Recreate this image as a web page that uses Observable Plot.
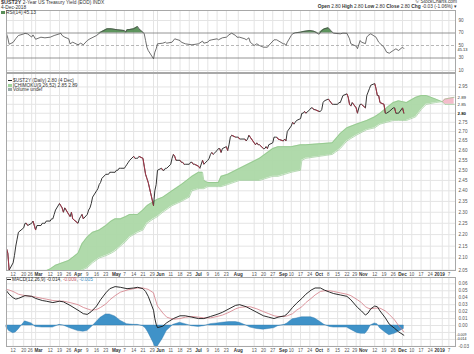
<!DOCTYPE html>
<html><head><meta charset="utf-8">
<script src="https://cdn.jsdelivr.net/npm/d3@7"></script>
<script src="https://cdn.jsdelivr.net/npm/@observablehq/plot@0.6"></script>
<style>
body{margin:0;background:#fff;font-family:"Liberation Sans",Arial,sans-serif;}
#wrap{position:relative;width:474px;height:354px;overflow:hidden;background:#fff;}
#wrap svg{position:absolute;left:0;}
.t{position:absolute;white-space:nowrap;font-size:4.8px;color:#333;line-height:1;}
.ic{display:inline-block;width:4px;height:3px;margin-right:1px;vertical-align:0px;}
</style></head><body><div id="wrap"></div>
<script>
// ---------------- DATA ----------------
const priceDates = ["2018-02-07","2018-02-08","2018-02-09","2018-02-12","2018-02-13","2018-02-14","2018-02-15","2018-02-16","2018-02-20","2018-02-21","2018-02-22","2018-02-23","2018-02-26","2018-02-27","2018-02-28","2018-03-01","2018-03-02","2018-03-05","2018-03-06","2018-03-07","2018-03-08","2018-03-09","2018-03-12","2018-03-13","2018-03-14","2018-03-15","2018-03-16","2018-03-19","2018-03-20","2018-03-21","2018-03-22","2018-03-23","2018-03-26","2018-03-27","2018-03-28","2018-03-29","2018-04-02","2018-04-03","2018-04-04","2018-04-05","2018-04-06","2018-04-09","2018-04-10","2018-04-11","2018-04-12","2018-04-13","2018-04-16","2018-04-17","2018-04-18","2018-04-19","2018-04-20","2018-04-23","2018-04-24","2018-04-25","2018-04-26","2018-04-27","2018-04-30","2018-05-01","2018-05-02","2018-05-03","2018-05-04","2018-05-07","2018-05-08","2018-05-09","2018-05-10","2018-05-11","2018-05-14","2018-05-15","2018-05-16","2018-05-17","2018-05-18","2018-05-21","2018-05-22","2018-05-23","2018-05-24","2018-05-25","2018-05-29","2018-05-30","2018-05-31","2018-06-01","2018-06-04","2018-06-05","2018-06-06","2018-06-07","2018-06-08","2018-06-11","2018-06-12","2018-06-13","2018-06-14","2018-06-15","2018-06-18","2018-06-19","2018-06-20","2018-06-21","2018-06-22","2018-06-25","2018-06-26","2018-06-27","2018-06-28","2018-06-29","2018-07-02","2018-07-03","2018-07-05","2018-07-06","2018-07-09","2018-07-10","2018-07-11","2018-07-12","2018-07-13","2018-07-16","2018-07-17","2018-07-18","2018-07-19","2018-07-20","2018-07-23","2018-07-24","2018-07-25","2018-07-26","2018-07-27","2018-07-30","2018-07-31","2018-08-01","2018-08-02","2018-08-03","2018-08-06","2018-08-07","2018-08-08","2018-08-09","2018-08-10","2018-08-13","2018-08-14","2018-08-15","2018-08-16","2018-08-17","2018-08-20","2018-08-21","2018-08-22","2018-08-23","2018-08-24","2018-08-27","2018-08-28","2018-08-29","2018-08-30","2018-08-31","2018-09-04","2018-09-05","2018-09-06","2018-09-07","2018-09-10","2018-09-11","2018-09-12","2018-09-13","2018-09-14","2018-09-17","2018-09-18","2018-09-19","2018-09-20","2018-09-21","2018-09-24","2018-09-25","2018-09-26","2018-09-27","2018-09-28","2018-10-01","2018-10-02","2018-10-03","2018-10-04","2018-10-05","2018-10-08","2018-10-09","2018-10-10","2018-10-11","2018-10-12","2018-10-15","2018-10-16","2018-10-17","2018-10-18","2018-10-19","2018-10-22","2018-10-23","2018-10-24","2018-10-25","2018-10-26","2018-10-29","2018-10-30","2018-10-31","2018-11-01","2018-11-02","2018-11-05","2018-11-06","2018-11-07","2018-11-08","2018-11-09","2018-11-12","2018-11-13","2018-11-14","2018-11-15","2018-11-16","2018-11-19","2018-11-20","2018-11-21","2018-11-23","2018-11-26","2018-11-27","2018-11-28","2018-11-29","2018-11-30","2018-12-03","2018-12-04"];
const priceValues = [2.14,2.12,2.05,2.08,2.11,2.15,2.18,2.21,2.23,2.25,2.25,2.24,2.25,2.26,2.24,2.22,2.24,2.24,2.25,2.25,2.25,2.26,2.26,2.27,2.27,2.29,2.31,2.34,2.33,2.32,2.30,2.32,2.29,2.28,2.30,2.27,2.25,2.27,2.28,2.29,2.27,2.29,2.31,2.32,2.34,2.37,2.40,2.41,2.43,2.44,2.46,2.48,2.48,2.48,2.49,2.49,2.49,2.50,2.50,2.51,2.51,2.51,2.52,2.53,2.54,2.55,2.57,2.56,2.56,2.56,2.57,2.56,2.52,2.48,2.46,2.44,2.33,2.40,2.43,2.50,2.51,2.50,2.50,2.51,2.51,2.53,2.56,2.58,2.57,2.55,2.55,2.54,2.54,2.53,2.53,2.53,2.54,2.54,2.53,2.53,2.52,2.51,2.55,2.53,2.55,2.56,2.58,2.59,2.58,2.60,2.61,2.61,2.59,2.61,2.62,2.60,2.63,2.67,2.68,2.67,2.67,2.67,2.66,2.66,2.66,2.65,2.66,2.68,2.67,2.64,2.63,2.64,2.63,2.63,2.61,2.61,2.62,2.61,2.63,2.64,2.67,2.67,2.67,2.66,2.65,2.66,2.65,2.70,2.73,2.75,2.74,2.75,2.76,2.77,2.80,2.80,2.81,2.80,2.82,2.83,2.83,2.82,2.82,2.81,2.81,2.82,2.86,2.87,2.88,2.87,2.86,2.85,2.85,2.85,2.86,2.86,2.88,2.90,2.91,2.89,2.85,2.84,2.86,2.83,2.80,2.83,2.85,2.85,2.83,2.90,2.92,2.94,2.96,2.97,2.94,2.90,2.90,2.86,2.85,2.80,2.80,2.81,2.83,2.83,2.80,2.80,2.80,2.83,2.80];

const cloudDates = ["2018-03-01","2018-03-06","2018-03-12","2018-03-16","2018-03-26","2018-04-02","2018-04-05","2018-04-09","2018-04-13","2018-04-18","2018-04-23","2018-04-27","2018-04-30","2018-05-04","2018-05-08","2018-05-11","2018-05-17","2018-05-21","2018-05-24","2018-05-29","2018-06-01","2018-06-05","2018-06-12","2018-06-19","2018-06-25","2018-06-27","2018-07-02","2018-07-05","2018-07-06","2018-07-09","2018-07-17","2018-07-19","2018-07-24","2018-08-02","2018-08-17","2018-08-27","2018-08-31","2018-09-10","2018-09-17","2018-09-18","2018-09-21","2018-10-11","2018-10-17","2018-10-22","2018-10-29","2018-11-06","2018-11-12","2018-11-16","2018-11-21","2018-11-26","2018-11-30","2018-12-06","2018-12-13","2018-12-17","2018-12-21","2018-12-28","2019-01-02","2019-01-04","2019-01-11"];
const spanA = [2.02,2.04,2.055,2.07,2.09,2.12,2.16,2.19,2.21,2.22,2.24,2.26,2.27,2.27,2.28,2.29,2.29,2.31,2.33,2.35,2.36,2.37,2.40,2.43,2.46,2.47,2.49,2.49,2.45,2.44,2.44,2.47,2.48,2.51,2.56,2.61,2.62,2.62,2.63,2.63,2.63,2.64,2.69,2.72,2.74,2.76,2.78,2.80,2.83,2.86,2.87,2.86,2.89,2.90,2.90,2.88,2.865,2.85,2.85];
const spanB = [1.96,1.97,1.98,1.99,2.01,2.04,2.05,2.06,2.08,2.10,2.11,2.12,2.13,2.15,2.17,2.19,2.21,2.22,2.25,2.27,2.28,2.30,2.33,2.35,2.37,2.40,2.41,2.41,2.41,2.42,2.42,2.42,2.43,2.45,2.45,2.47,2.47,2.49,2.50,2.55,2.56,2.58,2.61,2.65,2.68,2.71,2.72,2.74,2.75,2.76,2.76,2.76,2.78,2.82,2.85,2.86,2.865,2.88,2.89];

const rsiDates = ["2018-02-07","2018-02-08","2018-02-09","2018-02-12","2018-02-14","2018-02-16","2018-02-20","2018-02-21","2018-02-23","2018-02-26","2018-02-27","2018-03-01","2018-03-05","2018-03-08","2018-03-12","2018-03-15","2018-03-19","2018-03-20","2018-03-21","2018-03-23","2018-03-26","2018-03-27","2018-03-29","2018-04-02","2018-04-04","2018-04-06","2018-04-09","2018-04-11","2018-04-16","2018-04-19","2018-04-24","2018-04-27","2018-05-02","2018-05-07","2018-05-08","2018-05-09","2018-05-11","2018-05-14","2018-05-17","2018-05-18","2018-05-21","2018-05-22","2018-05-23","2018-05-24","2018-05-25","2018-05-29","2018-05-30","2018-05-31","2018-06-01","2018-06-05","2018-06-07","2018-06-08","2018-06-12","2018-06-14","2018-06-18","2018-06-19","2018-06-22","2018-06-27","2018-07-02","2018-07-05","2018-07-06","2018-07-09","2018-07-10","2018-07-12","2018-07-16","2018-07-17","2018-07-20","2018-07-23","2018-07-25","2018-07-27","2018-07-30","2018-07-31","2018-08-02","2018-08-06","2018-08-07","2018-08-09","2018-08-10","2018-08-13","2018-08-15","2018-08-17","2018-08-20","2018-08-23","2018-08-24","2018-08-28","2018-08-30","2018-09-04","2018-09-05","2018-09-06","2018-09-07","2018-09-10","2018-09-11","2018-09-13","2018-09-17","2018-09-19","2018-09-24","2018-09-27","2018-10-01","2018-10-03","2018-10-05","2018-10-08","2018-10-11","2018-10-12","2018-10-17","2018-10-19","2018-10-22","2018-10-24","2018-10-25","2018-10-29","2018-10-30","2018-11-01","2018-11-02","2018-11-05","2018-11-06","2018-11-07","2018-11-09","2018-11-13","2018-11-15","2018-11-19","2018-11-21","2018-11-23","2018-11-26","2018-11-28","2018-11-30","2018-12-03","2018-12-04"];
const rsiValues = [68.7,62,52,55,61,66,68.5,69.5,68.5,63.5,67,60,63.3,62.3,63.3,66,68.7,69.6,66,63.3,60.7,52.7,55.3,51.1,53.7,51.1,58,60.7,66,71.3,76.7,76.7,75.1,74,71.3,75.1,75.6,76.7,80.4,76.7,71.3,68.7,58,47.3,42,28.7,39.3,44.7,52.7,53.7,55.3,53.7,55.3,60.7,58,55.3,52.7,51.1,52.7,57,53.7,55.3,58,59.1,60.7,59.1,62.3,63.3,67.1,69.7,66,63.3,63.3,60.7,59.1,62.3,55.3,50,52.7,50,47.3,47.3,50,59.1,59.1,52.7,52.7,50,55.3,66,68.7,70.3,71.3,72.4,74,72.9,68,74,76.7,78.3,71.3,69.7,68.7,69.8,69.5,60.7,52.7,49,45,58,55.3,53,63.3,66,68.7,63.3,55.3,47.3,39.3,37.7,42,44.7,42,47.3,45.13];

const macdDates = ["2018-02-07","2018-02-09","2018-02-12","2018-02-14","2018-02-16","2018-02-21","2018-02-26","2018-03-01","2018-03-06","2018-03-09","2018-03-14","2018-03-19","2018-03-22","2018-03-27","2018-04-02","2018-04-06","2018-04-09","2018-04-12","2018-04-16","2018-04-19","2018-04-23","2018-04-26","2018-04-30","2018-05-04","2018-05-09","2018-05-14","2018-05-17","2018-05-21","2018-05-23","2018-05-25","2018-05-29","2018-05-30","2018-05-31","2018-06-01","2018-06-05","2018-06-08","2018-06-13","2018-06-18","2018-06-22","2018-06-27","2018-07-02","2018-07-06","2018-07-11","2018-07-16","2018-07-20","2018-07-25","2018-07-30","2018-08-02","2018-08-07","2018-08-10","2018-08-15","2018-08-20","2018-08-24","2018-08-28","2018-08-31","2018-09-05","2018-09-07","2018-09-11","2018-09-14","2018-09-18","2018-09-21","2018-09-25","2018-09-28","2018-10-02","2018-10-05","2018-10-09","2018-10-12","2018-10-17","2018-10-22","2018-10-25","2018-10-30","2018-11-02","2018-11-05","2018-11-07","2018-11-09","2018-11-12","2018-11-14","2018-11-16","2018-11-20","2018-11-23","2018-11-27","2018-11-30","2018-12-04"];
const macdValues = [0.050,0.045,0.040,0.038,0.039,0.043,0.042,0.039,0.036,0.035,0.033,0.035,0.034,0.029,0.022,0.017,0.016,0.020,0.028,0.037,0.047,0.053,0.056,0.055,0.053,0.054,0.055,0.053,0.049,0.042,0.022,0.010,0.002,-0.003,-0.001,0.004,0.010,0.014,0.014,0.012,0.010,0.010,0.013,0.016,0.019,0.024,0.029,0.030,0.027,0.024,0.019,0.014,0.012,0.010,0.012,0.014,0.017,0.026,0.032,0.039,0.045,0.051,0.054,0.054,0.051,0.048,0.046,0.044,0.042,0.037,0.026,0.021,0.015,0.018,0.024,0.028,0.027,0.021,0.011,0.002,-0.004,-0.009,-0.014];
const signalValues = [0.052,0.051,0.049,0.047,0.045,0.043,0.042,0.041,0.039,0.038,0.036,0.035,0.035,0.033,0.030,0.026,0.024,0.022,0.023,0.026,0.031,0.037,0.043,0.048,0.051,0.053,0.054,0.054,0.053,0.052,0.047,0.040,0.034,0.028,0.018,0.012,0.009,0.010,0.012,0.013,0.012,0.011,0.011,0.013,0.015,0.019,0.024,0.026,0.027,0.027,0.024,0.020,0.017,0.014,0.013,0.013,0.014,0.017,0.022,0.027,0.033,0.039,0.044,0.049,0.050,0.050,0.049,0.047,0.045,0.043,0.037,0.033,0.027,0.025,0.024,0.025,0.025,0.025,0.021,0.016,0.008,0.000,-0.009];
const histValues = [-0.003,-0.008,-0.011,-0.010,-0.006,0.006,0.003,-0.002,-0.003,-0.003,-0.003,0.001,0.000,-0.004,-0.008,-0.009,-0.008,-0.003,0.005,0.011,0.016,0.016,0.013,0.007,0.002,0.001,0.001,-0.001,-0.004,-0.010,-0.025,-0.030,-0.032,-0.031,-0.019,-0.008,0.001,0.004,0.002,-0.001,-0.002,-0.001,0.002,0.003,0.004,0.005,0.005,0.004,0.000,-0.003,-0.005,-0.006,-0.005,-0.004,-0.001,0.001,0.003,0.009,0.010,0.012,0.012,0.012,0.010,0.005,0.001,-0.002,-0.003,-0.003,-0.003,-0.006,-0.011,-0.012,-0.012,-0.007,0.000,0.003,0.002,-0.004,-0.010,-0.014,-0.012,-0.009,-0.005];

const dayTickDates = ["2018-02-12","2018-02-20","2018-02-26","2018-03-12","2018-03-19","2018-03-26","2018-04-09","2018-04-16","2018-04-23","2018-05-07","2018-05-14","2018-05-21","2018-05-29","2018-06-11","2018-06-18","2018-06-25","2018-07-09","2018-07-16","2018-07-23","2018-08-13","2018-08-20","2018-08-27","2018-09-10","2018-09-17","2018-09-24","2018-10-08","2018-10-15","2018-10-22","2018-10-29","2018-11-12","2018-11-19","2018-11-26","2018-12-10","2018-12-17","2018-12-24","2019-01-07"];
const dayTickLabels = ["12","20","26","12","19","26","9","16","23","7","14","21","29","11","18","25","9","16","23","13","20","27","10","17","24","8","15","22","29","12","19","26","10","17","24","7"];
const monthTickDates = ["2018-03-01","2018-04-02","2018-05-01","2018-06-01","2018-07-02","2018-08-01","2018-09-04","2018-10-01","2018-11-01","2018-12-03","2019-01-02"];
const monthTickLabels = ["Mar","Apr","May","Jun","Jul","Aug","Sep","Oct","Nov","Dec","2019"];

const rsiTicks = [10,30,50,70,90];
const priceGridTicks = [2.05,2.10,2.15,2.20,2.25,2.30,2.35,2.40,2.45,2.50,2.55,2.60,2.65,2.70,2.75,2.80,2.85,2.90,2.95];
const priceLabelTicks = [2.05,2.10,2.15,2.20,2.25,2.30,2.35,2.40,2.45,2.50,2.55,2.60,2.65,2.70,2.75,2.95];
const macdGridTicks = [-0.03,-0.02,-0.01,0.00,0.01,0.02,0.03,0.04,0.05,0.06];
const macdLabelTicks = [-0.03,0.00,0.01,0.02,0.03,0.04,0.05,0.06];

const rsiLast = [45.13];
const priceLast = [2.80];
const cloudLast = [2.89, 2.85];
const macdLast = [-0.005, -0.009, -0.014]; // histogram, signal, macd

// ---------------- BUILD ----------------
const P = s => new Date(s);
const DAY = 864e5;
const priceData = priceDates.map((d,i)=>({date:P(d), v:priceValues[i]}));
const downSegs = priceData.slice(1).map((d,i)=>({x1:priceData[i].date, y1:priceData[i].v, x2:d.date, y2:d.v})).filter(s=>s.y2 < s.y1);
const cloudData = cloudDates.map((d,i)=>({date:P(d), a:spanA[i], b:spanB[i]}));
const rsiData = rsiDates.map((d,i)=>({date:P(d), v:rsiValues[i]}));
const macdData = macdDates.map((d,i)=>({date:P(d), m:macdValues[i], s:signalValues[i], h:histValues[i]}));
const dayTicks = dayTickDates.map((d,i)=>({date:P(d), label:dayTickLabels[i]}));
const monthTicks = monthTickDates.map((d,i)=>({date:P(d), label:monthTickLabels[i]}));
const allTicks = [...dayTicks, ...monthTicks].map(d=>d.date);

// label collision groups (derived from tick spacing)
const gapTo = (t, list, dir) => Math.min(...list.map(o => dir*(o.date - t.date)/DAY).filter(g => g > 0), 99);
const dayPre = dayTicks.filter(t => gapTo(t, monthTicks, 1) <= 4);            // right before a month label
const dayNormal = dayTicks.filter(t => gapTo(t, monthTicks, 1) > 4);
const monthAfterDay = monthTicks.filter(t => gapTo(t, dayTicks, -1) <= 4);      // right after a day label
const monthTight = monthTicks.filter(t => gapTo(t, dayTicks, -1) > 4 && gapTo(t, dayTicks, 1) <= 5); // day label close after
const monthNormal = monthTicks.filter(t => !monthAfterDay.includes(t) && !monthTight.includes(t));

const FONT = "'Liberation Sans', Arial, sans-serif";
const common = {
  width: 474, marginLeft: 6, marginRight: 19,
  x: {type:"utc", domain:[P("2018-02-07"), P("2019-01-12")], axis:null},
  style: {fontFamily: FONT, fontSize:"5px", background:"transparent", overflow:"visible", color:"#444"}
};
const GRID = "#e4e4e4", FRAME = "#a8a8a8";
const axisOpts = {anchor:"right", tickSize:0, tickPadding:3, label:null, fontSize:4.6, color:"#555"};

function dateLabels(){
  const dOpt = {x:"date", text:"label", frameAnchor:"bottom", lineAnchor:"top", dy:2, fontSize:4.5, fill:"#555"};
  const mOpt = {x:"date", text:"label", frameAnchor:"bottom", lineAnchor:"top", dy:2, fontSize:4.6, fontWeight:"bold", fill:"#333"};
  return [
    Plot.text(dayNormal, dOpt),
    Plot.text(dayPre, {...dOpt, textAnchor:"end", dx:1.2}),
    Plot.text(monthNormal, mOpt),
    Plot.text(monthAfterDay, {...mOpt, textAnchor:"start", dx:-1.2}),
    Plot.text(monthTight, {...mOpt, textAnchor:"end", dx:2.5})
  ];
}

// RSI panel
const rsiPlot = Plot.plot({...common, height:73, marginTop:10, marginBottom:1,
  y:{domain:[6.8,106]},
  marks:[
    Plot.gridX(allTicks, {stroke:GRID, strokeOpacity:1}),
    Plot.gridY([10,90], {stroke:GRID, strokeOpacity:1}),
    Plot.areaY(rsiData, {x:"date", y1:70, y2:d=>Math.max(70,d.v), fill:"#4d8a4d", fillOpacity:0.9}),
    Plot.ruleY([70,30], {stroke:"#7a7a7a", strokeWidth:0.8}),
    Plot.ruleY([50], {stroke:"#9a9a9a", strokeWidth:0.7, strokeDasharray:"3,2"}),
    Plot.line(rsiData, {x:"date", y:"v", stroke:"#4a4a4a", strokeWidth:0.8}),
    Plot.frame({stroke:FRAME}),
    Plot.axisY({...axisOpts, ticks:rsiTicks}),
    Plot.text(rsiLast, {y:d=>d, text:d=>d.toFixed(2), frameAnchor:"right", textAnchor:"start", dx:2, dy:1, fontSize:4, fill:"#222", ariaLabel:"box-gray"})
  ]});

// Price panel
const pricePlot = Plot.plot({...common, height:205, marginTop:1, marginBottom:7,
  y:{type:"log", domain:[2.0485, 3.030]},
  marks:[
    Plot.gridX(allTicks, {stroke:GRID, strokeOpacity:1}),
    Plot.gridY(priceGridTicks, {stroke:GRID, strokeOpacity:1}),
    Plot.areaY(cloudData, {x:"date", y1:"b", y2:d=>Math.max(d.a,d.b), fill:"#acd8a6", fillOpacity:0.95, clip:true}),
    Plot.areaY(cloudData, {x:"date", y1:"a", y2:d=>Math.max(d.a,d.b), fill:"#f4bccb", clip:true}),
    Plot.line(cloudData, {x:"date", y:"a", stroke:"#86bf80", strokeWidth:0.6, clip:true}),
    Plot.line(cloudData, {x:"date", y:"b", stroke:"#8cc486", strokeWidth:0.6, clip:true}),
    Plot.line(priceData, {x:"date", y:"v", stroke:"#1e1e1e", strokeWidth:0.9, clip:true}),
    Plot.link(downSegs, {x1:"x1", y1:"y1", x2:"x2", y2:"y2", stroke:"#b0344a", strokeWidth:0.9, clip:true}),
    Plot.frame({stroke:FRAME}),
    Plot.axisY({...axisOpts, ticks:priceLabelTicks, tickFormat:d=>d.toFixed(2)}),
    Plot.text(cloudLast, {y:d=>d, text:d=>d.toFixed(2), frameAnchor:"right", textAnchor:"start", dx:2, fontSize:4.4, fill:"#333", ariaLabel:"box-gray"}),
    Plot.text(priceLast, {y:d=>d, text:d=>d.toFixed(2), frameAnchor:"right", textAnchor:"start", dx:2, fontSize:4.4, fontWeight:"bold", fill:"#111", ariaLabel:"box-black"}),
    ...dateLabels()
  ]});

// MACD panel
const macdPlot = Plot.plot({...common, height:77, marginTop:0, marginBottom:8,
  y:{domain:[-0.0302, 0.0691]},
  marks:[
    Plot.gridX(allTicks, {stroke:GRID, strokeOpacity:1}),
    Plot.gridY(macdGridTicks, {stroke:GRID, strokeOpacity:1}),
    Plot.areaY(macdData, {x:"date", y:"h", fill:"#3f92c8", stroke:"#2c74a8", strokeWidth:0.4}),
    Plot.line(macdData, {x:"date", y:"s", stroke:"#d47c86", strokeWidth:0.8}),
    Plot.line(macdData, {x:"date", y:"m", stroke:"#151515", strokeWidth:0.9}),
    Plot.frame({stroke:FRAME}),
    Plot.axisY({...axisOpts, ticks:macdLabelTicks, tickFormat:d=>d.toFixed(2)}),
    Plot.text([macdLast[0]], {y:d=>d, text:d=>d.toFixed(3), frameAnchor:"right", textAnchor:"start", dx:1, dy:1.5, fontSize:3.5, fill:"#fff", ariaLabel:"box-blue"}),
    Plot.text([macdLast[1]], {y:d=>d, text:d=>d.toFixed(3), frameAnchor:"right", textAnchor:"start", dx:1, dy:2.8, fontSize:3.5, fill:"#333", ariaLabel:"box-red"}),
    Plot.text([macdLast[2]], {y:d=>d, text:d=>d.toFixed(3), frameAnchor:"right", textAnchor:"start", dx:1, dy:4, fontSize:3.5, fill:"#111", ariaLabel:"box-gray"}),
    ...dateLabels()
  ]});

const wrap = document.getElementById("wrap");
[[rsiPlot,0],[pricePlot,72],[macdPlot,277]].forEach(([svg,top])=>{svg.style.top=top+"px"; wrap.appendChild(svg);});

// boxes behind value labels
const boxStyle = {"box-gray":["#fff","#777"],"box-black":["#fff","#111"],"box-blue":["#3f92c8","#2c74a8"],"box-red":["#fff","#d47c86"]};
wrap.querySelectorAll("g[aria-label^='box']").forEach(g=>{
  const st = boxStyle[g.getAttribute("aria-label")];
  g.querySelectorAll("text").forEach(t=>{
    const b = t.getBBox();
    const r = document.createElementNS("http://www.w3.org/2000/svg","rect");
    r.setAttribute("x", b.x-0.7); r.setAttribute("y", b.y+0.1);
    r.setAttribute("width", b.width+1.4); r.setAttribute("height", b.height-0.2);
    r.setAttribute("fill", st[0]); r.setAttribute("stroke", st[1]); r.setAttribute("stroke-width", 0.5);
    if (t.getAttribute("transform")) r.setAttribute("transform", t.getAttribute("transform"));
    t.parentNode.insertBefore(r, t);
  });
});

// text annotations
const ann = [
  [1,0,'<b style="font-size:5.4px">$UST2Y</b> 2-Year US Treasury Yield (EOD) INDX'],
  [1,5.5,'4-Dec-2018'],
  [1,11.2,'<span class="ic" style="background:#5b8f5b"></span>RSI(14) 45.13'],
  [null,0,'© StockCharts.com'],
  [null,5.2,'<b>Open</b> 2.80 <b>High</b> 2.80 <b>Low</b> 2.80 <b>Close</b> 2.80 <b>Chg</b> -0.03 (-1.06%) ▾'],
  [8,79,'<span style="display:inline-block;width:4px;height:0.8px;background:#222;vertical-align:1.2px;margin-right:1px"></span>$UST2Y (Daily) 2.80 (4 Dec)'],
  [8,83.6,'<span class="ic" style="background:#9fd49a"></span>ICHIMOKU(9,26,52) 2.85 2.89'],
  [8,88,'<span class="ic" style="background:#9aa"></span>Volume undef'],
  [7,277.5,'<span style="display:inline-block;width:4px;height:0.8px;background:#222;vertical-align:1.2px;margin-right:1px"></span>MACD(12,26,9) -0.014, <span style="color:#c8606c">-0.009</span>, <span style="color:#3f92c8">-0.005</span>']
];
ann.forEach(([l,t,h])=>{
  const d = document.createElement("div"); d.className="t"; d.innerHTML=h;
  d.style.top=t+"px"; if(l===null) d.style.right="17px"; else d.style.left=l+"px";
  wrap.appendChild(d);
});
</script></body></html>
